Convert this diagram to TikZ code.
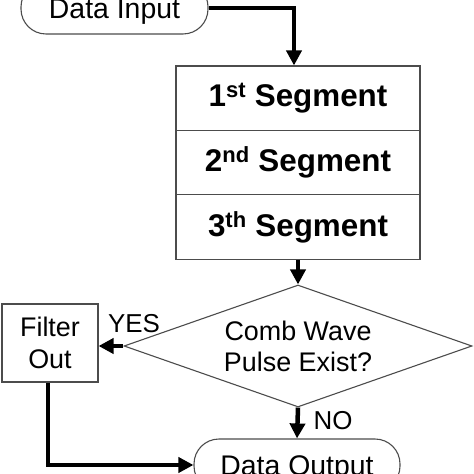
\documentclass[tikz,border=0pt]{standalone}
\usepackage{fontspec}
\setmainfont{Liberation Sans}
\usetikzlibrary{shapes.geometric,arrows.meta}
\begin{document}
\begin{tikzpicture}[x=1bp,y=-1bp,
  frame/.style={draw=black!70,line width=1.1bp},
  term/.style={frame,rounded corners=25bp,minimum height=52bp,inner sep=0pt,text height=20.4bp,text depth=0pt,font=\fontsize{28.5}{32}\selectfont},
  segbox/.style={frame,minimum width=244bp,minimum height=64.4bp,inner sep=0pt,font=\fontsize{31.5}{34}\selectfont\bfseries},
  flow/.style={line width=4.5bp,-{Triangle[length=15bp,width=15bp]}},
  lbl/.style={inner sep=0pt,font=\fontsize{26}{30}\selectfont}]
\useasboundingbox (0,0) rectangle (474,474);
\node[term,minimum width=187bp] (din) at (114.5,8) {Data Input};
\node[segbox] (seg1) at (298,98.2) {1\textsuperscript{st} Segment};
\node[segbox] (seg2) at (298,162.6) {2\textsuperscript{nd} Segment};
\node[segbox] (seg3) at (298,227) {3\textsuperscript{th} Segment};
\node[frame,shape=diamond,aspect=2.85,inner sep=0pt,minimum width=348bp,minimum height=122bp,align=center,font=\fontsize{27}{31}\selectfont] (dia) at (298,346) {Comb Wave\\Pulse Exist?};
\node[frame,minimum width=96bp,minimum height=78bp,inner sep=0pt,align=center,font=\fontsize{27}{32}\selectfont] (filt) at (50,343) {Filter\\Out};
\node[term,minimum width=206bp] (dout) at (297,465) {Data Output};
\node[lbl] (yes) at (134,324) {YES};
\node[lbl] (no) at (333,421) {NO};
\draw[flow] (din.east) -| ([xshift=-4bp]seg1.north);
\draw[flow] (seg3.south) -- (dia.north);
\draw[flow] (dia.west) -- (dia.west -| filt.east);
\draw[flow] (dia.south) -- (dout.north);
\draw[flow] ([xshift=-2bp]filt.south) |- (dout.west);
\end{tikzpicture}
\end{document}
